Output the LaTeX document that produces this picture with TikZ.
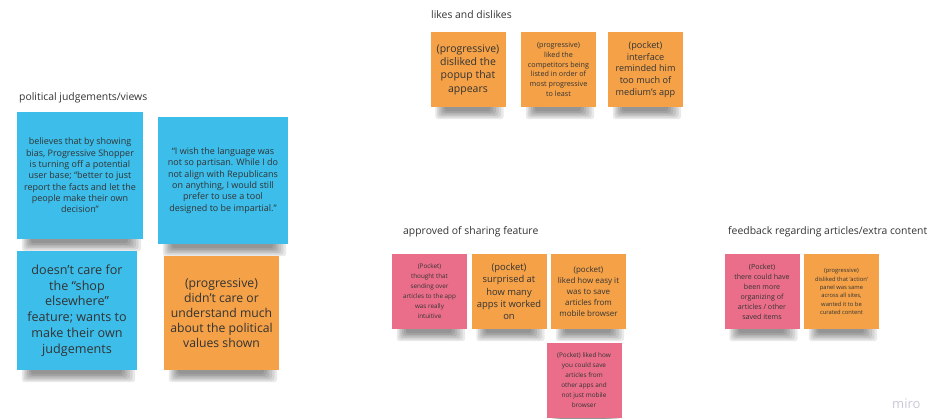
\documentclass[tikz,border=0pt]{standalone}
\usepackage{fontspec}
\setmainfont{Open Sans}
\usetikzlibrary{backgrounds}
\definecolor{sblue}{HTML}{3CBDEA}
\definecolor{sorange}{HTML}{F4A148}
\definecolor{spink}{HTML}{EA6E8A}
\definecolor{ink}{HTML}{333333}
\definecolor{mirogrey}{HTML}{C8C8D6}
\tikzset{
  sticky/.style={inner sep=0pt, align=center, text=ink},
  small/.style={sticky, minimum width=75pt, minimum height=75pt},
  grouptitle/.style={anchor=west, inner sep=0pt, text=ink, font=\fontsize{10.4}{12}\selectfont},
  shadowpart/.style={fill=black, opacity=0.085, rounded corners=3pt}
}
\newcommand{\fs}[2]{\fontsize{#1}{#2}\selectfont}
\begin{document}
\begin{tikzpicture}[x=1pt,y=-1pt]
\useasboundingbox (0,0) rectangle (942,419);

% titles
\node[grouptitle] (t1) at (19,98) {political judgements/views};
\node[grouptitle] (t2) at (431,15) {likes and dislikes};
\node[grouptitle] (t3) at (403,232) {approved of sharing feature};
\node[grouptitle] (t4) at (728,232) {feedback regarding articles/extra content};

% political judgements
\node[sticky, fill=sblue, minimum width=126pt, minimum height=127pt, font=\fs{9}{11.3}] (b1) at (80,175.5)
 {believes that by showing\\bias, Progressive Shopper\\is turning off a potential\\user base; “better to just\\report the facts and let the\\people make their own\\decision”};
\node[sticky, fill=sblue, minimum width=130pt, minimum height=127pt, font=\fs{9}{11.3}] (b2) at (223,180.5)
 {“I wish the language was\\not so partisan. While I do\\not align with Republicans\\on anything, I would still\\prefer to use a tool\\designed to be impartial.”};
\node[sticky, fill=sblue, minimum width=120pt, minimum height=119pt, font=\fs{12.6}{15.7}] (b3) at (77,310.5)
 {doesn’t care for\\the “shop\\elsewhere”\\feature; wants to\\make their own\\judgements};
\node[sticky, fill=sorange, minimum width=115pt, minimum height=114pt, font=\fs{12.2}{15}] (o4) at (221.5,313)
 {(progressive)\\didn't care or\\understand much\\about the political\\values shown};

% likes and dislikes
\node[small, fill=sorange, font=\fs{10.5}{13.3}] (la) at (468,69.5)
 {(progressive)\\disliked the\\popup that\\appears};
\node[small, fill=sorange, font=\fs{7.2}{9.7}] (lb) at (558.5,69.5)
 {(progressive)\\liked the\\competitors being\\listed in order of\\most progressive\\to least};
\node[small, fill=sorange, font=\fs{9.1}{11.7}] (lc) at (645.5,69.5)
 {(pocket)\\interface\\reminded him\\too much of\\medium's app};

% sharing feature
\node[small, fill=spink, font=\fs{6.3}{10}] (s1) at (429.5,291.5)
 {(Pocket)\\thought that\\sending over\\articles to the app\\was really\\intuitive};
\node[small, fill=sorange, font=\fs{9.4}{12.3}] (s2) at (509,291.5)
 {(pocket)\\surprised at\\how many\\apps it worked\\on};
\node[small, fill=sorange, font=\fs{8}{11}] (s3) at (588.5,291.5)
 {(pocket)\\liked how easy it\\was to save\\articles from\\mobile browser};
\node[small, fill=spink, font=\fs{6.4}{10}] (s4) at (584,380.5)
 {(Pocket) liked how\\you could save\\articles from\\other apps and\\not just mobile\\browser};

% feedback
\node[small, fill=spink, font=\fs{7.1}{10}] (f1) at (762,291.5)
 {(Pocket)\\there could have\\been more\\organizing of\\articles / other\\saved items};
\node[small, fill=sorange, font=\fs{5.8}{8.3}] (f2) at (841.5,291.5)
 {(progressive)\\disliked that 'action'\\panel was same\\across all sites,\\wanted it to be\\curated content};

% shadows
\begin{scope}[on background layer]
\foreach \n in {b1,b2,b3,o4,la,lb,lc,s1,s2,s3,s4,f1,f2}{
  \foreach \i in {0,1,2,3,4,5}{
    \fill[shadowpart] ([xshift={5pt+1.8pt*\i}, yshift=6pt]\n.south west)
      rectangle ([xshift={-2pt-2.6pt*\i}, yshift={-12pt+1.6pt*\i}]\n.south east);
  }
}
\end{scope}

% logo
\node[anchor=west, inner sep=0pt, text=mirogrey, font=\fs{13}{14}] (logo) at (892,404) {miro};
\end{tikzpicture}
\end{document}
